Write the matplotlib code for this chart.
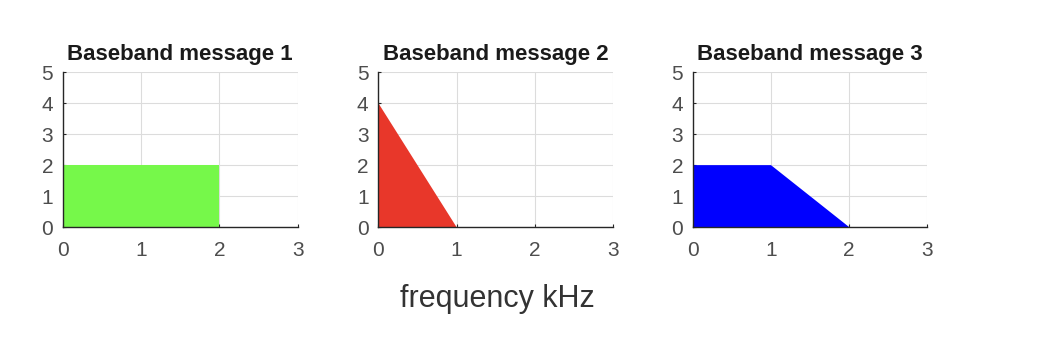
import matplotlib
matplotlib.use("Agg")
import matplotlib.pyplot as plt

# spectra of the three baseband messages (frequency in kHz, amplitude)
f1 = [0, 0, 2, 2]
a1 = [0, 2, 2, 0]
f2 = [0, 0, 1]
a2 = [0, 4, 0]
f3 = [0, 0, 1, 2]
a3 = [0, 2, 2, 0]

titles = ["Baseband message 1", "Baseband message 2", "Baseband message 3"]
colors = ["#76F84A", "#E8372A", "#0000FF"]
xticks = [0, 1, 2, 3]
yticks = [0, 1, 2, 3, 4, 5]

plt.rcParams['font.family'] = ['Liberation Sans', 'DejaVu Sans']

fig = plt.figure(figsize=(10.48, 3.5), dpi=100)
lefts = [0.060, 0.361, 0.661]
for i, (f, a) in enumerate([(f1, a1), (f2, a2), (f3, a3)]):
    ax = fig.add_axes([lefts[i], 0.351, 0.224, 0.443])
    ax.fill(f, a, color=colors[i], linewidth=0)
    ax.set_xlim(0, 3)
    ax.set_ylim(0, 5)
    ax.set_xticks(xticks)
    ax.set_yticks(yticks)
    ax.grid(True, color="#dcdcdc", linewidth=0.8)
    ax.set_axisbelow(True)
    ax.spines['top'].set_visible(False)
    ax.spines['right'].set_visible(False)
    for s in ['left', 'bottom']:
        ax.spines[s].set_color("#262626")
        ax.spines[s].set_linewidth(1.0)
    ax.tick_params(labelsize=15, colors="#262626", labelcolor="#4d4d4d",
                   direction='in', length=2.5, width=0.8)
    ax.tick_params(axis='x', pad=10)
    ax.tick_params(axis='y', pad=7)
    ax.set_title(titles[i], fontsize=16, fontweight='bold', color="#1a1a1a", pad=9)

fig.text(0.475, 0.146, "frequency kHz", fontsize=22, color="#333333",
         ha='center', va='center')

fig.savefig("out.png", dpi=100)
